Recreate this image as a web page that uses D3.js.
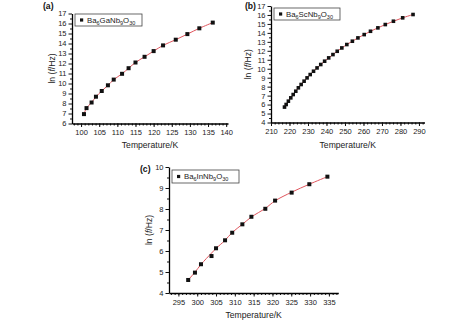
<!DOCTYPE html>
<html>
<head>
<meta charset="utf-8">
<script src="https://cdn.jsdelivr.net/npm/d3@7"></script>
<style>
  html, body { margin: 0; padding: 0; background: #fff; }
  svg { display: block; font-family: "Liberation Sans", Arial, sans-serif; }
  .tick text { fill: #222; }
</style>
</head>
<body>
<svg id="chart" width="474" height="327"></svg>
<script>
// Panel (a): Ba6GaNb9O30
const tempA = [100.8, 101.5, 102.9, 104.1, 105.7, 107.4, 109.0, 111.3, 113.1, 115.0, 117.5, 120.0, 122.6, 126.1, 129.3, 132.6, 136.3];
const lnfA  = [6.94, 7.54, 8.10, 8.68, 9.25, 9.82, 10.39, 10.97, 11.53, 12.10, 12.67, 13.24, 13.81, 14.38, 14.94, 15.52, 16.09];

// Panel (b): Ba6ScNb9O30
const tempB = [217.3, 218.2, 219.4, 220.7, 222.0, 223.4, 224.8, 226.3, 227.9, 229.5, 231.2, 233.0, 234.9, 236.9, 239.0, 241.2, 243.5, 245.8, 248.3, 251.0, 254.0, 257.0, 260.4, 263.8, 267.8, 271.8, 276.2, 281.2, 286.8];
const lnfB  = [5.72, 6.01, 6.38, 6.75, 7.12, 7.49, 7.87, 8.24, 8.61, 8.98, 9.35, 9.72, 10.09, 10.47, 10.84, 11.21, 11.58, 11.95, 12.32, 12.70, 13.07, 13.44, 13.81, 14.18, 14.56, 14.93, 15.30, 15.68, 16.05];

// Panel (c): Ba6InNb9O30
const tempC = [297.6, 299.4, 301.0, 303.8, 305.0, 307.4, 309.3, 312.0, 314.4, 318.1, 320.7, 325.1, 329.8, 334.6];
const lnfC  = [4.62, 4.97, 5.37, 5.76, 6.13, 6.51, 6.87, 7.27, 7.63, 8.01, 8.40, 8.78, 9.18, 9.54];
// fitted curve for (c), which runs above the low point at 303.8 K
const fitTempC = [297.6, 299.4, 301.0, 303.8, 305.0, 307.4, 309.3, 312.0, 314.4, 318.1, 320.7, 325.1, 329.8, 334.6];
const fitLnfC  = [4.62, 4.99, 5.36, 5.90, 6.12, 6.51, 6.88, 7.27, 7.62, 8.03, 8.39, 8.80, 9.18, 9.54];

// Axis ticks
const xTicksA = [100, 105, 110, 115, 120, 125, 130, 135, 140];
const yTicksA = [6, 7, 8, 9, 10, 11, 12, 13, 14, 15, 16, 17];
const xTicksB = [210, 220, 230, 240, 250, 260, 270, 280, 290];
const yTicksB = [4, 5, 6, 7, 8, 9, 10, 11, 12, 13, 14, 15, 16, 17];
const xTicksC = [295, 300, 305, 310, 315, 320, 325, 330, 335];
const yTicksC = [4, 5, 6, 7, 8, 9, 10];

const compounds = [
  [["Ba", ""], ["6", "sub"], ["GaNb", ""], ["9", "sub"], ["O", ""], ["30", "sub"]],
  [["Ba", ""], ["6", "sub"], ["ScNb", ""], ["9", "sub"], ["O", ""], ["30", "sub"]],
  [["Ba", ""], ["6", "sub"], ["InNb", ""], ["9", "sub"], ["O", ""], ["30", "sub"]]
];

const svg = d3.select("#chart");
const lineColor = "#e0565e";
const intFmt = d3.format("d");

function range(a, b, step) {
  const out = [];
  for (let v = a; v <= b + 1e-9; v += step) out.push(+v.toFixed(4));
  return out;
}

function panel(cfg) {
  const g = svg.append("g");
  const x = d3.scaleLinear().domain(cfg.xDomain).range(cfg.xRange);
  const y = d3.scaleLinear().domain(cfg.yDomain).range(cfg.yRange);

  // minor ticks
  g.append("g").attr("transform", `translate(0,${cfg.yRange[0]})`)
    .call(d3.axisBottom(x).tickValues(cfg.xMinor).tickSize(2).tickSizeOuter(0).tickFormat(""))
    .call(s => s.select(".domain").remove());
  g.append("g").attr("transform", `translate(${cfg.xRange[0]},0)`)
    .call(d3.axisLeft(y).tickValues(cfg.yMinor).tickSize(2).tickSizeOuter(0).tickFormat(""))
    .call(s => s.select(".domain").remove());

  // major axes
  const xa = g.append("g").attr("transform", `translate(0,${cfg.yRange[0]})`)
    .call(d3.axisBottom(x).tickValues(cfg.xTicks).tickFormat(intFmt).tickSize(3.5).tickSizeOuter(0).tickPadding(3));
  const ya = g.append("g").attr("transform", `translate(${cfg.xRange[0]},0)`)
    .call(d3.axisLeft(y).tickValues(cfg.yTicks).tickFormat(intFmt).tickSize(3.5).tickSizeOuter(0).tickPadding(2));
  [xa, ya].forEach(a => {
    a.selectAll("text").attr("font-size", 7.5).attr("font-family", "Liberation Sans, Arial, sans-serif");
    a.select(".domain").attr("stroke-width", 1.3);
  });
  g.selectAll(".tick line").attr("stroke", "#111");

  // fitted curve
  const fitX = cfg.fitX || cfg.tx, fitY = cfg.fitY || cfg.ty;
  const pts = fitX.map((t, i) => [t, fitY[i]]);
  g.append("path")
    .attr("d", d3.line().x(d => x(d[0])).y(d => y(d[1])).curve(d3.curveCatmullRom.alpha(0.5))(pts))
    .attr("fill", "none").attr("stroke", lineColor).attr("stroke-width", 1);

  // data points
  const s = cfg.marker;
  g.selectAll("rect.pt").data(cfg.tx.map((t, i) => [t, cfg.ty[i]])).join("rect")
    .attr("class", "pt")
    .attr("x", d => x(d[0]) - s / 2).attr("y", d => y(d[1]) - s / 2)
    .attr("width", s).attr("height", s).attr("fill", "#111");

  // legend
  const L = cfg.legend;
  g.append("rect").attr("x", L.x).attr("y", L.y).attr("width", L.w).attr("height", L.h)
    .attr("fill", "#fff").attr("stroke", "#444").attr("stroke-width", 0.8);
  g.append("rect").attr("x", L.x + 5).attr("y", L.y + L.h / 2 - 1.6).attr("width", 3.2).attr("height", 3.2).attr("fill", "#111");
  const lt = g.append("text").attr("x", L.x + 12).attr("y", L.y + L.h / 2 + 2.6)
    .attr("font-size", 7.8).attr("fill", "#222");
  cfg.name.forEach(([txt, kind]) => {
    const t = lt.append("tspan").text(txt);
    if (kind === "sub") t.attr("font-size", 5.5).attr("dy", 2);
    else t.attr("dy", lt.selectAll("tspan").size() > 1 ? -2 : 0);
  });

  // axis titles
  g.append("text").attr("x", d3.mean(cfg.xRange)).attr("y", cfg.xTitleY)
    .attr("text-anchor", "middle").attr("font-size", 8.6).attr("fill", "#222").text("Temperature/K");
  const yt = g.append("text")
    .attr("transform", `translate(${cfg.yTitleX},${d3.mean(cfg.yRange)}) rotate(-90)`)
    .attr("text-anchor", "middle").attr("font-size", 8.6).attr("fill", "#222");
  yt.append("tspan").text("ln (");
  yt.append("tspan").attr("font-style", "italic").text("f");
  yt.append("tspan").text("/Hz)");

  // panel letter
  g.append("text").attr("x", cfg.tag.x).attr("y", cfg.tag.y)
    .attr("font-size", 8.6).attr("font-weight", "bold").attr("fill", "#111").text(cfg.tag.t);
}

panel({
  tx: tempA, ty: lnfA, marker: 4,
  xDomain: [97.5, 140.5], xRange: [72, 228], xTicks: xTicksA, xMinor: range(98, 140, 1),
  yDomain: [6, 17], yRange: [123.5, 13.5], yTicks: yTicksA, yMinor: range(6.5, 16.5, 1),
  legend: { x: 75, y: 14, w: 67, h: 12 }, name: compounds[0],
  xTitleY: 148, yTitleX: 55, tag: { x: 43, y: 9, t: "(a)" }
});

panel({
  tx: tempB, ty: lnfB, marker: 3.6,
  xDomain: [210, 293], xRange: [271, 424.5], xTicks: xTicksB, xMinor: range(212, 292, 2),
  yDomain: [4, 17], yRange: [122.5, 6], yTicks: yTicksB, yMinor: range(4.5, 16.5, 1),
  legend: { x: 274, y: 8, w: 66, h: 12 }, name: compounds[1],
  xTitleY: 148, yTitleX: 251, tag: { x: 245, y: 9, t: "(b)" }
});

panel({
  tx: tempC, ty: lnfC, fitX: fitTempC, fitY: fitLnfC, marker: 4,
  xDomain: [292.5, 337.5], xRange: [169, 338.3], xTicks: xTicksC, xMinor: range(293, 337, 1),
  yDomain: [4, 10], yRange: [293, 167], yTicks: yTicksC, yMinor: range(4.5, 9.5, 1),
  legend: { x: 172, y: 170, w: 67, h: 13 }, name: compounds[2],
  xTitleY: 318, yTitleX: 152, tag: { x: 140, y: 172, t: "(c)" }
});
</script>
</body>
</html>
